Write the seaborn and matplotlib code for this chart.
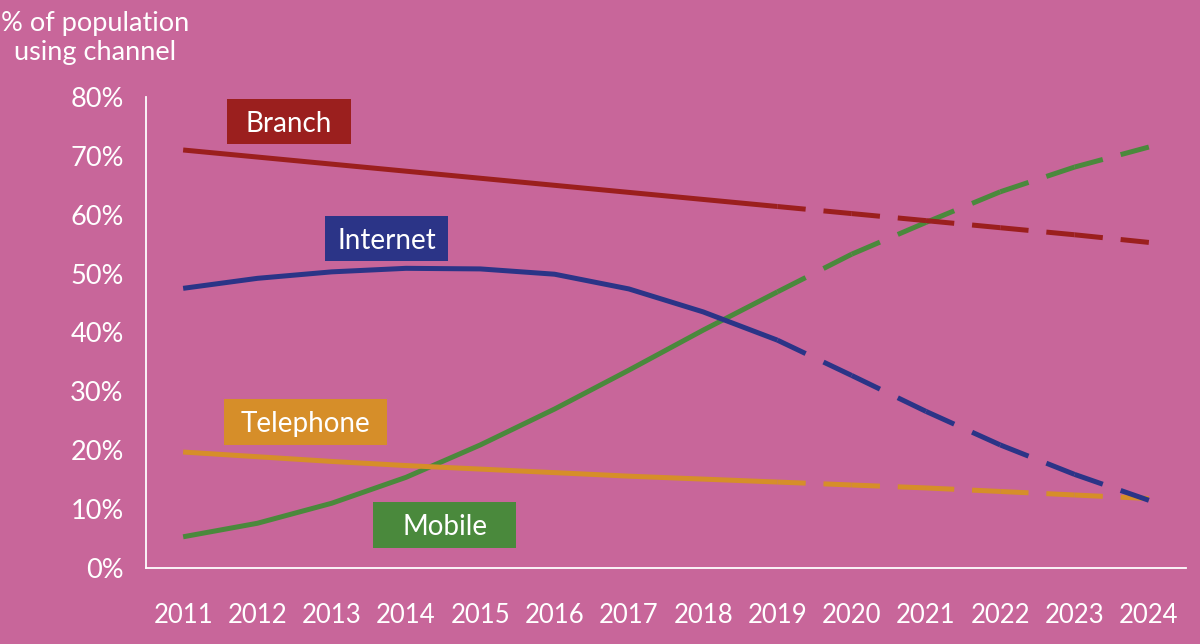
import numpy as np
import pandas as pd
import matplotlib
matplotlib.use("Agg")
import matplotlib.pyplot as plt
from matplotlib.patches import Rectangle
import seaborn as sns

# ---- data ----
years = [2011, 2012, 2013, 2014, 2015, 2016, 2017, 2018, 2019, 2020, 2021, 2022, 2023, 2024]
branch = [71.0, 69.8, 68.6, 67.4, 66.2, 65.0, 63.8, 62.6, 61.4, 60.2, 59.0, 57.8, 56.6, 55.3]
internet = [47.5, 49.2, 50.3, 50.9, 50.8, 49.9, 47.4, 43.5, 38.7, 32.7, 26.6, 20.9, 15.9, 11.5]
telephone = [19.7, 18.9, 18.1, 17.4, 16.8, 16.2, 15.6, 15.1, 14.6, 14.1, 13.6, 13.0, 12.4, 11.8]
mobile = [5.3, 7.6, 11.0, 15.4, 20.9, 27.0, 33.6, 40.4, 46.9, 53.3, 58.7, 63.9, 68.1, 71.5]
forecast_from = 2019
y_ticks = [0, 10, 20, 30, 40, 50, 60, 70, 80]
y_tick_labels = ["0%", "10%", "20%", "30%", "40%", "50%", "60%", "70%", "80%"]
series_names = ["Mobile", "Telephone", "Internet", "Branch"]
series_values = [mobile, telephone, internet, branch]

BG = "#C8669A"
colors = {"Branch": "#9B1F1E", "Internet": "#2B3487", "Telephone": "#D68E29", "Mobile": "#4A893C"}
# label box: (center x in years, bottom y in %, width px, height px)
boxes = {
    "Branch": (2012.42, 72.0, 124, 45),
    "Internet": (2013.74, 52.1, 123, 45),
    "Telephone": (2012.65, 20.9, 163, 46),
    "Mobile": (2014.52, 3.4, 143, 46),
}

sns.set_theme(style="white")
plt.rcParams["font.family"] = ["Lato", "DejaVu Sans"]
plt.rcParams["lines.scale_dashes"] = False

DPI = 100
fig = plt.figure(figsize=(12, 6.44), dpi=DPI, facecolor=BG)
ax = fig.add_axes([146 / 1200, 1 - 568 / 644, (1186 - 146) / 1200, (568 - 97) / 644])
ax.set_facecolor(BG)
ax.set_xlim(2010.5, 2024.5)
ax.set_ylim(0, 80)

LW = 3.6
for name, vals in zip(series_names, series_values):
    df = pd.DataFrame({"year": years, "value": vals})
    c = colors[name]
    solid = df[df["year"] <= forecast_from]
    sns.lineplot(data=solid, x="year", y="value", color=c, lw=LW, ax=ax,
                 solid_capstyle="butt", solid_joinstyle="round")
    fyears = [y for y in years if y >= forecast_from]
    for y0, y1 in zip(fyears[:-1], fyears[1:]):
        seg = df[(df["year"] >= y0) & (df["year"] <= y1)]
        sns.lineplot(data=seg, x="year", y="value", color=c, lw=LW, ax=ax)
        line = ax.lines[-1]
        p = ax.transData.transform(seg[["year", "value"]].to_numpy(dtype=float))
        L = np.hypot(*(p[1] - p[0])) * 72 / DPI
        line.set_linestyle((0.38 * L, (0.76 * L, 0.24 * L)))
        line.set_dash_capstyle("butt")

# label boxes
px_per_year = (1186 - 146) / 14.0
px_per_pct = (568 - 97) / 80.0
for name, (cx, by, wpx, hpx) in boxes.items():
    w = wpx / px_per_year
    h = hpx / px_per_pct
    ax.add_patch(Rectangle((cx - w / 2, by), w, h, facecolor=colors[name],
                           edgecolor="none", zorder=5))
    ax.text(cx, by + 12.5 / px_per_pct, name, ha="center", va="baseline",
            color="white", fontsize=20, zorder=6)

ax.set_xticks(years)
ax.set_xticklabels([str(y) for y in years])
ax.set_yticks(y_ticks)
ax.set_yticklabels(y_tick_labels)
ax.tick_params(axis="both", length=0, colors="white")
ax.tick_params(axis="x", labelsize=18.5, pad=25)
ax.tick_params(axis="y", labelsize=19.5, pad=16)
ax.set_xlabel("")
ax.set_ylabel("")
for s in ["top", "right"]:
    ax.spines[s].set_visible(False)
for s in ["left", "bottom"]:
    ax.spines[s].set_color("white")
    ax.spines[s].set_linewidth(1.3)
ax.grid(False)

fig.text(95 / 1200, 1 - 11 / 644, "% of population\nusing channel", ha="center", va="top",
         color="white", fontsize=19.5, linespacing=1.2, multialignment="center")

fig.savefig("out.png", dpi=DPI, facecolor=BG)
